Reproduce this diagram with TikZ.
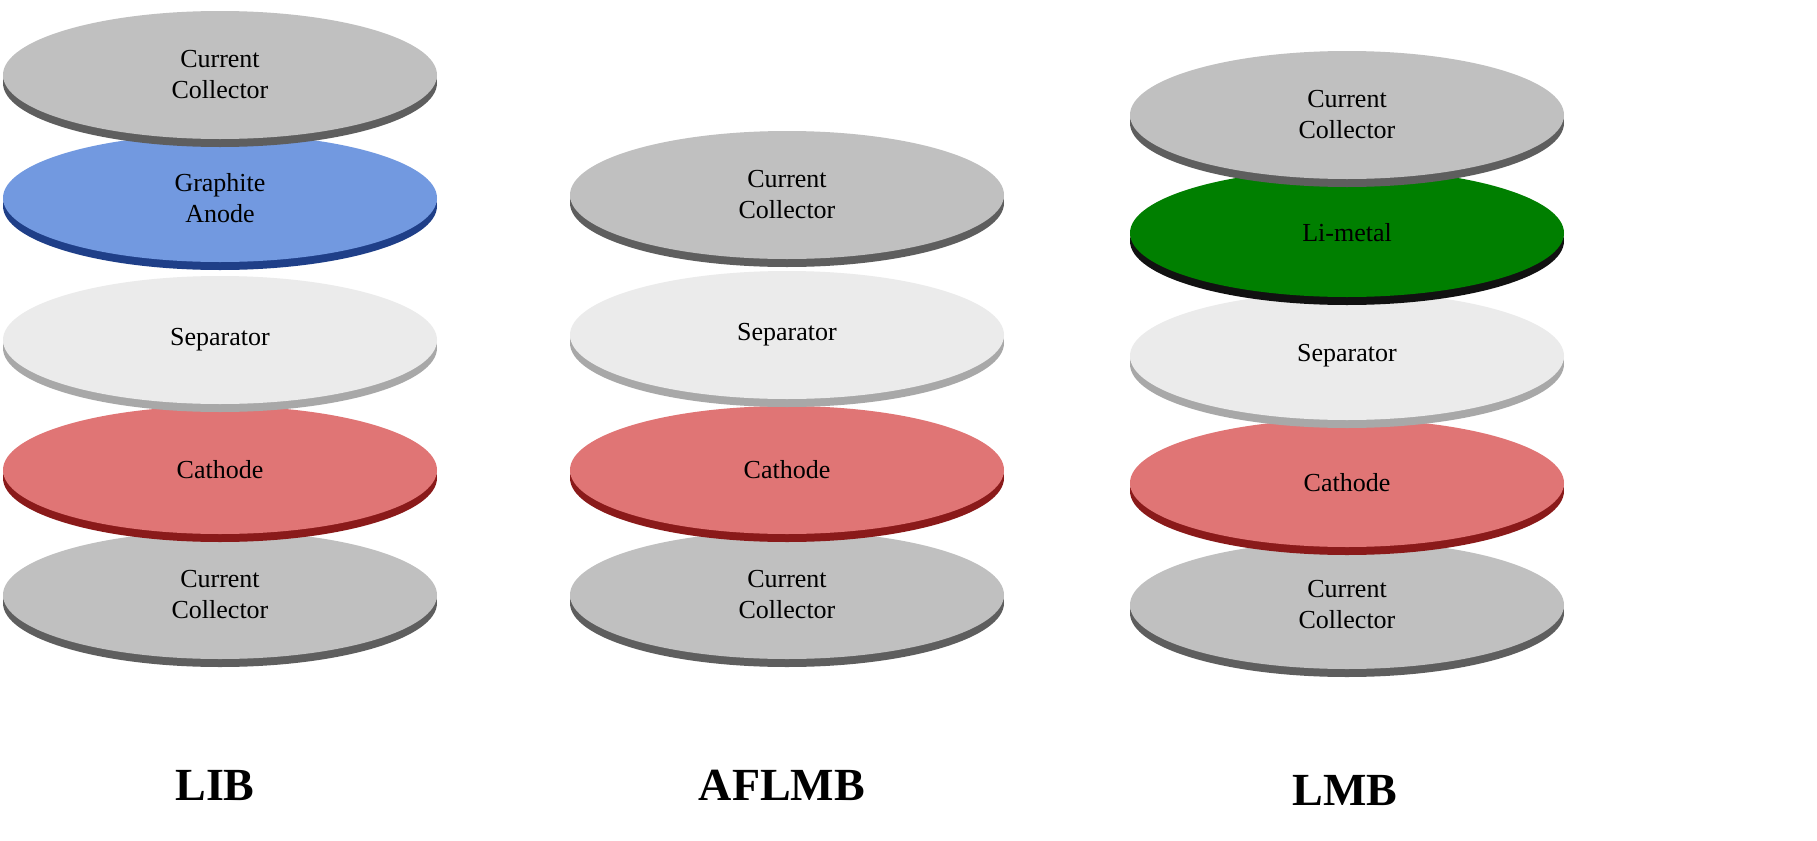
\documentclass[tikz,border=0pt]{standalone}
\usepackage{fontspec}
\setmainfont{Liberation Serif}
\definecolor{ccT}{HTML}{C0C0C0}\definecolor{ccD}{HTML}{5E5E5E}
\definecolor{anT}{HTML}{7299E0}\definecolor{anD}{HTML}{1F3F88}
\definecolor{spT}{HTML}{EBEBEB}\definecolor{spD}{HTML}{A8A8A8}
\definecolor{caT}{HTML}{E07575}\definecolor{caD}{HTML}{8A1A1A}
\definecolor{liT}{HTML}{007F00}\definecolor{liD}{HTML}{111111}
\tikzset{lbl/.style={font=\fontsize{13}{15.5}\selectfont,align=center},
 title/.style={font=\fontsize{23}{26}\selectfont\bfseries}}
% #1 name, #2 x, #3 y, #4 top, #5 dark, #6 text
\newcommand{\mydisk}[6]{%
 \fill[#5] (#2,#3+8) ellipse [x radius=108.5pt, y radius=32pt];
 \fill[#4] (#2,#3) ellipse [x radius=108.5pt, y radius=32pt];
 \node[lbl] (#1) at (#2,#3) {#6};}
\begin{document}
\begin{tikzpicture}[x=0.5pt,y=-0.5pt]
\useasboundingbox (0,0) rectangle (1817,841);
\fill[white] (0,0) rectangle (1817,841);
% LIB
\mydisk{l5}{220}{595}{ccT}{ccD}{Current\\Collector}
\mydisk{l4}{220}{470}{caT}{caD}{Cathode}
\mydisk{l3}{220}{340}{spT}{spD}{Separator}
\mydisk{l2}{220}{198}{anT}{anD}{Graphite\\Anode}
\mydisk{l1}{220}{75}{ccT}{ccD}{Current\\Collector}
\node[title] (t1) at (215,785) {LIB};
% AFLMB
\mydisk{a4}{787}{595}{ccT}{ccD}{Current\\Collector}
\mydisk{a3}{787}{470}{caT}{caD}{Cathode}
\mydisk{a2}{787}{335}{spT}{spD}{Separator}
\mydisk{a1}{787}{195}{ccT}{ccD}{Current\\Collector}
\node[title] (t2) at (782,785) {AFLMB};
% LMB
\mydisk{m5}{1347}{605}{ccT}{ccD}{Current\\Collector}
\mydisk{m4}{1347}{483}{caT}{caD}{Cathode}
\mydisk{m3}{1347}{356}{spT}{spD}{Separator}
\mydisk{m2}{1347}{233}{liT}{liD}{Li-metal}
\mydisk{m1}{1347}{115}{ccT}{ccD}{Current\\Collector}
\node[title] (t3) at (1345,790) {LMB};
\end{tikzpicture}
\end{document}
